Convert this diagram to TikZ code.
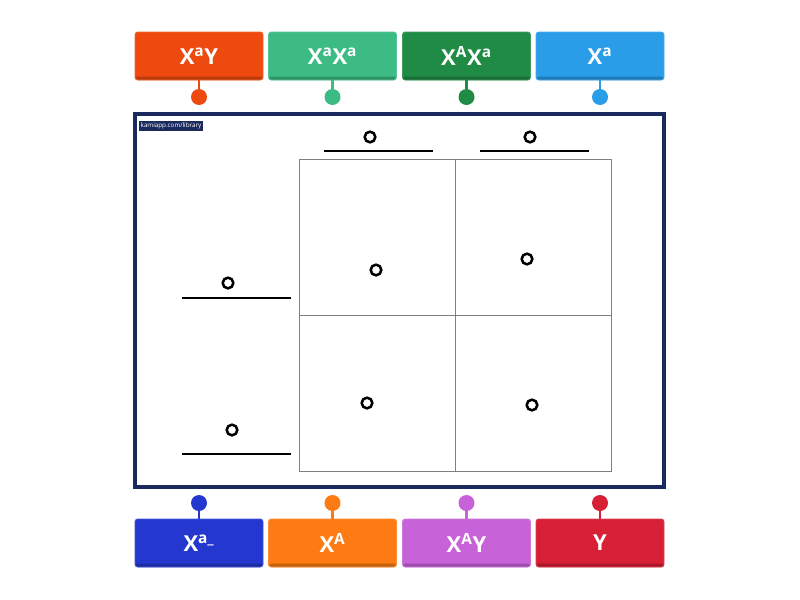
\documentclass[tikz,border=0pt]{standalone}
\usepackage{fontspec}
\setmainfont{Open Sans}
\definecolor{frameblue}{HTML}{1B2A5E}
\definecolor{cRed}{HTML}{EE4A10}
\definecolor{cMint}{HTML}{3DBB85}
\definecolor{cGreen}{HTML}{1F8B45}
\definecolor{cSky}{HTML}{2A9DE8}
\definecolor{cBlue}{HTML}{2438D0}
\definecolor{cOrange}{HTML}{FD7B12}
\definecolor{cViolet}{HTML}{C862D8}
\definecolor{cCrimson}{HTML}{D71F36}
\tikzset{
  tile/.style={rounded corners=2pt, minimum width=96pt, minimum height=36pt,
    inner sep=0pt, fill=#1, draw=#1!85!white, line width=0.6pt, text=white,
    font=\bfseries\fontsize{16.5}{16.5}\selectfont,
    path picture={\fill[#1!78!black] (path picture bounding box.south west)
      rectangle ([yshift=2.5pt]path picture bounding box.south east);}},
  pin/.style={circle, fill=#1, inner sep=0pt, minimum size=12pt},
  stub/.style={draw=#1, line width=2.2pt},
  slot/.style={circle, draw=black, line width=1.9pt, inner sep=0pt, minimum size=8pt},
  blank/.style={line width=1.3pt}
}
\begin{document}
\begin{tikzpicture}[x=0.75pt,y=0.75pt,yscale=-1,xscale=1]
\useasboundingbox (0,0) rectangle (800,600);

% top row of answer tiles
\node[tile=cRed] (t1) at (199,56) {X\textsuperscript{a}Y};
\node[tile=cMint] (t2) at (332.5,56) {X\textsuperscript{a}X\textsuperscript{a}};
\node[tile=cGreen] (t3) at (466.5,56) {X\textsuperscript{A}X\textsuperscript{a}};
\node[tile=cSky] (t4) at (600,56) {X\textsuperscript{a}};
\node[pin=cRed] (p1) at (199,97) {};
\node[pin=cMint] (p2) at (332.5,97) {};
\node[pin=cGreen] (p3) at (466.5,97) {};
\node[pin=cSky] (p4) at (600,97) {};
\draw[stub=cRed] (t1) -- (p1);
\draw[stub=cMint] (t2) -- (p2);
\draw[stub=cGreen] (t3) -- (p3);
\draw[stub=cSky] (t4) -- (p4);

% bottom row of answer tiles
\node[tile=cBlue] (b1) at (199,543) {X\textsuperscript{a\_}};
\node[tile=cOrange] (b2) at (332.5,543) {X\textsuperscript{A}};
\node[tile=cViolet] (b3) at (466.5,543) {X\textsuperscript{A}Y};
\node[tile=cCrimson] (b4) at (600,543) {Y};
\node[pin=cBlue] (q1) at (199,503) {};
\node[pin=cOrange] (q2) at (332.5,503) {};
\node[pin=cViolet] (q3) at (466.5,503) {};
\node[pin=cCrimson] (q4) at (600,503) {};
\draw[stub=cBlue] (b1) -- (q1);
\draw[stub=cOrange] (b2) -- (q2);
\draw[stub=cViolet] (b3) -- (q3);
\draw[stub=cCrimson] (b4) -- (q4);

% frame
\draw[frameblue, line width=3.3pt] (135,114) rectangle (664,487);
\node[fill=frameblue, text=white, inner sep=1.4pt, font=\fontsize{4.7}{4.7}\selectfont] (tag) at (171,126) {kamiapp.com/library};

% Punnett square
\draw[gray, line width=0.6pt] (299,159) rectangle (611,471);
\draw[gray, line width=0.6pt] (455,159) -- (455,471);
\draw[gray, line width=0.6pt] (299,315) -- (611,315);

% blanks
\draw[blank] (324,151) -- (433,151);
\draw[blank] (480,151) -- (589,151);
\draw[blank] (182,298) -- (291,298);
\draw[blank] (182,454) -- (291,454);

% drop targets
\node[slot] (s1) at (370,137) {};
\node[slot] (s2) at (530,137) {};
\node[slot] (s3) at (228,283) {};
\node[slot] (s4) at (232,430) {};
\node[slot] (s5) at (376,270) {};
\node[slot] (s6) at (527,259) {};
\node[slot] (s7) at (367,403) {};
\node[slot] (s8) at (532,405) {};

\end{tikzpicture}
\end{document}
